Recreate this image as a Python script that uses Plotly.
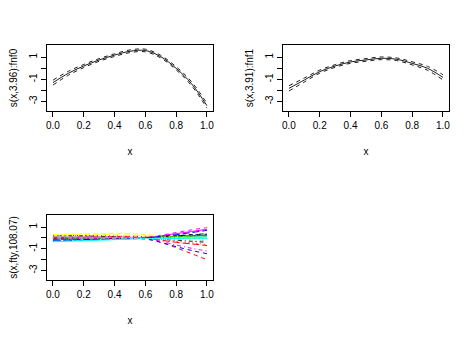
import plotly.graph_objects as go

# Evaluation grid for the smooths
x_grid = [0.0, 0.1, 0.2, 0.3, 0.4, 0.5, 0.6, 0.7, 0.8, 0.9, 1.0]

# s(x,3.96):fnf0 -- estimate and standard error band
fit_fnf0 = [-1.30, -0.45, 0.21, 0.76, 1.20, 1.55, 1.62, 1.06, 0.00, -1.40, -3.40]
se_fnf0 = [0.11, 0.09, 0.07, 0.06, 0.06, 0.06, 0.06, 0.06, 0.07, 0.09, 0.11]

# s(x,3.91):fnf1 -- estimate and standard error band
fit_fnf1 = [-1.82, -1.06, -0.30, 0.21, 0.58, 0.76, 0.91, 0.82, 0.45, 0.00, -0.82]
se_fnf1 = [0.12, 0.09, 0.07, 0.06, 0.06, 0.06, 0.06, 0.06, 0.07, 0.09, 0.12]

# s(x,fty,108.07) -- one curve per factor level
fs_curves = [
    [-0.05, -0.05, -0.02, 0.00, 0.02, 0.03, 0.05, 0.10, 0.15, 0.20, 0.25],
    [0.10, 0.12, 0.15, 0.15, 0.12, 0.10, 0.00, -0.40, -0.90, -1.45, -2.00],
    [-0.20, -0.15, -0.10, -0.08, -0.05, -0.02, 0.00, 0.02, 0.05, 0.08, 0.10],
    [-0.30, -0.25, -0.20, -0.15, -0.10, -0.05, 0.00, 0.10, 0.20, 0.30, 0.40],
    [-0.25, -0.22, -0.20, -0.18, -0.15, -0.10, -0.05, 0.00, 0.05, 0.08, 0.10],
    [0.05, 0.08, 0.10, 0.10, 0.08, 0.05, 0.05, 0.20, 0.40, 0.60, 0.80],
    [0.30, 0.32, 0.35, 0.38, 0.40, 0.38, 0.30, 0.20, 0.10, 0.00, -0.10],
    [0.15, 0.15, 0.12, 0.10, 0.10, 0.10, 0.08, 0.05, 0.02, 0.00, -0.05],
    [0.20, 0.20, 0.18, 0.15, 0.10, 0.05, 0.00, -0.10, -0.20, -0.30, -0.40],
    [0.00, 0.02, 0.05, 0.05, 0.05, 0.03, 0.00, -0.20, -0.40, -0.55, -0.70],
    [-0.10, -0.08, -0.05, -0.03, 0.00, 0.02, 0.05, 0.10, 0.15, 0.18, 0.20],
    [0.05, 0.05, 0.03, 0.00, -0.02, -0.05, -0.10, -0.40, -0.80, -1.15, -1.45],
    [-0.15, -0.12, -0.10, -0.10, -0.08, -0.05, 0.00, 0.05, 0.10, 0.12, 0.15],
    [-0.05, -0.03, 0.00, 0.02, 0.03, 0.02, 0.00, -0.30, -0.65, -0.95, -1.20],
    [0.25, 0.28, 0.30, 0.30, 0.28, 0.25, 0.20, 0.15, 0.10, 0.05, 0.00],
    [0.10, 0.10, 0.08, 0.08, 0.05, 0.05, 0.05, 0.05, 0.05, 0.05, 0.05],
    [-0.10, -0.10, -0.08, -0.05, -0.05, -0.03, 0.00, 0.10, 0.20, 0.30, 0.35],
    [0.20, 0.22, 0.22, 0.20, 0.18, 0.15, 0.10, -0.10, -0.30, -0.45, -0.60],
    [0.00, 0.00, 0.02, 0.02, 0.02, 0.00, 0.00, 0.05, 0.10, 0.20, 0.30],
    [-0.20, -0.18, -0.15, -0.12, -0.10, -0.05, 0.00, 0.15, 0.30, 0.50, 0.70],
    [-0.35, -0.30, -0.25, -0.20, -0.15, -0.10, -0.05, -0.05, -0.05, -0.05, -0.05],
    [-0.10, -0.08, -0.05, -0.03, 0.00, 0.02, 0.05, 0.25, 0.50, 0.75, 0.95],
    [0.35, 0.38, 0.40, 0.42, 0.45, 0.42, 0.35, 0.20, 0.05, -0.05, -0.10],
    [0.00, 0.00, 0.00, -0.02, -0.02, -0.03, -0.05, -0.10, -0.15, -0.20, -0.25],
]

x_ticks = [0.0, 0.2, 0.4, 0.6, 0.8, 1.0]
x_tick_text = ["0.0", "0.2", "0.4", "0.6", "0.8", "1.0"]
y_ticks = [1, 0, -1, -2, -3]
y_tick_text = ["1", "", "-1", "", "-3"]

palette = ["#000000", "#FF0000", "#00CD00", "#0000FF",
           "#00FFFF", "#FF00FF", "#FFFF00", "#BEBEBE"]
dashes = ["solid", "4px,4px", "1px,3px", "1px,3px,4px,3px", "7px,3px"]

FONT = "Liberation Sans, Arial, sans-serif"
W, H = 474, 338

fig = go.Figure()


def band_traces(fit, se, xa, ya):
    upper = [f + 2 * s for f, s in zip(fit, se)]
    lower = [f - 2 * s for f, s in zip(fit, se)]
    for ys, dash in ((fit, "solid"), (upper, "4px,4px"), (lower, "4px,4px")):
        fig.add_trace(go.Scatter(
            x=x_grid, y=ys, mode="lines", xaxis=xa, yaxis=ya,
            line=dict(color="#1a1a1a", width=1, dash=dash, shape="spline"),
            showlegend=False, hoverinfo="skip"))


band_traces(fit_fnf0, se_fnf0, "x", "y")
band_traces(fit_fnf1, se_fnf1, "x2", "y2")

for i, curve in enumerate(fs_curves):
    fig.add_trace(go.Scatter(
        x=x_grid, y=curve, mode="lines", xaxis="x3", yaxis="y3",
        line=dict(color=palette[i % 8], width=1, dash=dashes[i % 5], shape="spline"),
        showlegend=False, hoverinfo="skip"))


def px_x(a, b):
    return [a / W, b / W]


def px_y(top, bottom):
    return [1 - bottom / H, 1 - top / H]


axis_common = dict(
    showline=True, mirror=True, linecolor="#000000", linewidth=1,
    ticks="outside", ticklen=5, tickwidth=1, tickcolor="#000000",
    showgrid=False, zeroline=False,
    tickfont=dict(family=FONT, size=10, color="#000000"),
)

panels = [
    ("", px_x(46, 213), px_y(45, 111), "s(x,3.96):fnf0"),
    ("2", px_x(283, 450), px_y(45, 111), "s(x,3.91):fnf1"),
    ("3", px_x(46, 213), px_y(215, 280), "s(x,fty,108.07)"),
]

layout = dict(
    width=W, height=H, margin=dict(l=0, r=0, t=0, b=0),
    paper_bgcolor="#FFFFFF", plot_bgcolor="#FFFFFF",
    font=dict(family=FONT, size=10, color="#000000"),
    showlegend=False,
)

for suffix, xdom, ydom, ylab in panels:
    layout["xaxis" + suffix] = dict(
        axis_common, domain=xdom, range=[-0.04, 1.04],
        anchor="y" + suffix, tickvals=x_ticks, ticktext=x_tick_text,
        title=dict(text="x", font=dict(family=FONT, size=10), standoff=17),
    )
    layout["yaxis" + suffix] = dict(
        axis_common, domain=ydom, range=[-3.88, 2.12],
        anchor="x" + suffix, tickvals=y_ticks, ticktext=y_tick_text,
        tickangle=-90,
        title=dict(text=ylab, font=dict(family=FONT, size=10), standoff=8),
    )

fig.update_layout(**layout)
fig.write_html("out.html")
